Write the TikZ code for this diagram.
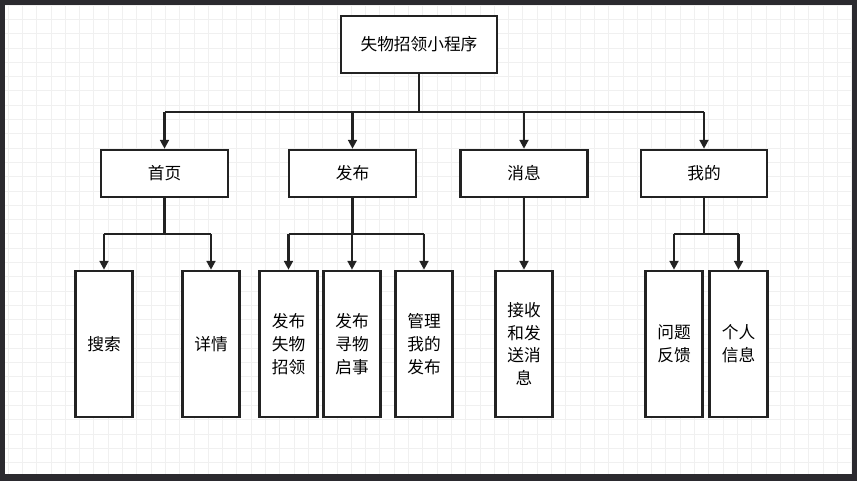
\documentclass[tikz,border=0pt]{standalone}
\usepackage{fontspec}
\setmainfont{Noto Sans CJK SC}
\usetikzlibrary{arrows.meta}
\definecolor{frame}{HTML}{2B2A2F}
\definecolor{edge}{HTML}{222222}
\begin{document}
\begin{tikzpicture}[x=0.02cm, y=-0.02cm, line width=1.5pt, draw=edge,
    box/.style={draw=edge, fill=white, inner sep=0pt, align=center, font=\fontsize{9.5}{13}\selectfont},
    arr/.style={-{Triangle[length=5pt,width=5pt]}}]
    % background with frame and grid
    \fill[frame] (0,0) rectangle (857,481);
    \fill[white] (5,5) rectangle (852,474);
    \begin{scope}
    \clip (5,5) rectangle (852,474);
    \foreach \i in {0,...,60} {
        \draw[line width=0.4pt, gray!12] (8+14.3*\i,5) -- (8+14.3*\i,474);
        \draw[line width=0.4pt, gray!12] (5,5+14.3*\i) -- (852,5+14.3*\i);
    }
    \end{scope}
    % boxes
    \node[box, minimum width=3.12cm, minimum height=1.14cm] (app) at (419,44.5) {失物招领小程序};
    \node[box, minimum width=2.54cm, minimum height=0.94cm] (home) at (164.5,173.5) {首页};
    \node[box, minimum width=2.54cm, minimum height=0.94cm] (post) at (352.5,173.5) {发布};
    \node[box, minimum width=2.54cm, minimum height=0.94cm] (msg) at (524,173.5) {消息};
    \node[box, minimum width=2.52cm, minimum height=0.94cm] (mine) at (704,173.5) {我的};
    \foreach \n/\x/\t in {search/104/搜索, detail/211/详情, lost/288.5/发布\\失物\\招领, find/352/发布\\寻物\\启事,
        manage/424/管理\\我的\\发布, chat/524/接收\\和发\\送消\\息, feedback/674/问题\\反馈, info/738.5/个人\\信息}
        \node[box, minimum width=1.15cm, minimum height=2.92cm] (\n) at (\x,344) {\t};
    % connections
    \draw (app.south) -- (419,112) coordinate (b0);
    \draw (165,112) -- (704,112);
    \foreach \n in {home,post,msg,mine} \draw[arr] (b0 -| \n.north) -- (\n.north);
    \draw (home.south) -- (164.5,234) coordinate (b1);
    \draw (104,234) -- (211,234);
    \foreach \n in {search,detail} \draw[arr] (b1 -| \n.north) -- (\n.north);
    \draw (post.south) -- (352.5,234) coordinate (b2);
    \draw (288.5,234) -- (424,234);
    \foreach \n in {lost,find,manage} \draw[arr] (b2 -| \n.north) -- (\n.north);
    \draw[arr] (msg.south) -- (chat.north);
    \draw (mine.south) -- (704,234) coordinate (b3);
    \draw (674,234) -- (738.5,234);
    \foreach \n in {feedback,info} \draw[arr] (b3 -| \n.north) -- (\n.north);
\end{tikzpicture}
\end{document}
